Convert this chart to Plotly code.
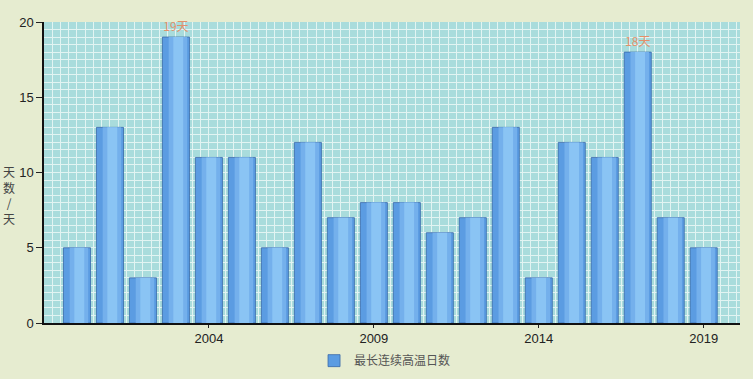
import plotly.graph_objects as go

years = list(range(2000, 2020))
days = [5, 13, 3, 19, 11, 11, 5, 12, 7, 8, 8, 6, 7, 13, 3, 12, 11, 18, 7, 5]
labels = ["" for _ in years]
labels[years.index(2003)] = "19天"
labels[years.index(2017)] = "18天"
series_name = "最长连续高温日数"
x_ticks = [2004, 2009, 2014, 2019]
y_ticks = [0, 5, 10, 15, 20]

fig = go.Figure()
fig.add_trace(go.Bar(
    x=years, y=days, name=series_name, width=0.82,
    marker=dict(color="#5b9ce2", line=dict(color="#3a6aa8", width=0.8)),
    text=labels, textposition="outside", cliponaxis=False,
    textfont=dict(color="#e2906a", size=12, family="Noto Sans CJK SC"),
))
fig.add_trace(go.Bar(
    x=years, y=days, width=0.56, offset=-0.22, showlegend=False, hoverinfo="skip",
    marker=dict(color="#74b0ec", line=dict(width=0)),
))
fig.add_trace(go.Bar(
    x=years, y=days, width=0.3, offset=-0.08, showlegend=False, hoverinfo="skip",
    marker=dict(color="#8ac4f4", line=dict(width=0)),
))

fig.update_layout(
    width=753, height=379,
    margin=dict(l=44, r=13, t=22, b=56, autoexpand=False),
    paper_bgcolor="#e6ecd0",
    plot_bgcolor="#a9dcdc",
    barmode="overlay",
    showlegend=True,
    legend=dict(orientation="h", x=0.49, xanchor="center", y=-0.125, yanchor="middle",
                font=dict(size=12, color="#555555", family="Noto Sans CJK SC"),
                bgcolor="rgba(0,0,0,0)"),
    font=dict(family="Liberation Sans", size=13, color="#222222"),
)
fig.update_xaxes(
    range=[1999.0, 2020.1], tickvals=x_ticks, ticks="outside", ticklen=3,
    tickcolor="#222", showline=True, linecolor="#111", linewidth=1.5,
    showgrid=False, zeroline=False,
    minor=dict(dtick=0.25, tick0=1999, showgrid=True, gridcolor="#e2f4f2", gridwidth=1),
)
fig.update_yaxes(
    range=[0, 20], tickvals=y_ticks, ticks="outside", ticklen=6,
    tickcolor="#222", showline=True, linecolor="#111", linewidth=1.5,
    showgrid=True, gridcolor="#e2f4f2", gridwidth=1, zeroline=False,
    minor=dict(dtick=0.5, showgrid=True, gridcolor="#e2f4f2", gridwidth=1),
)
fig.add_annotation(
    text="天<br>数<br>/<br>天", xref="paper", yref="paper", x=-0.05, y=0.425,
    xanchor="center", yanchor="middle",
    showarrow=False, font=dict(size=12, color="#444444", family="Noto Sans CJK SC"),
    align="center",
)
fig.write_html("out.html")
